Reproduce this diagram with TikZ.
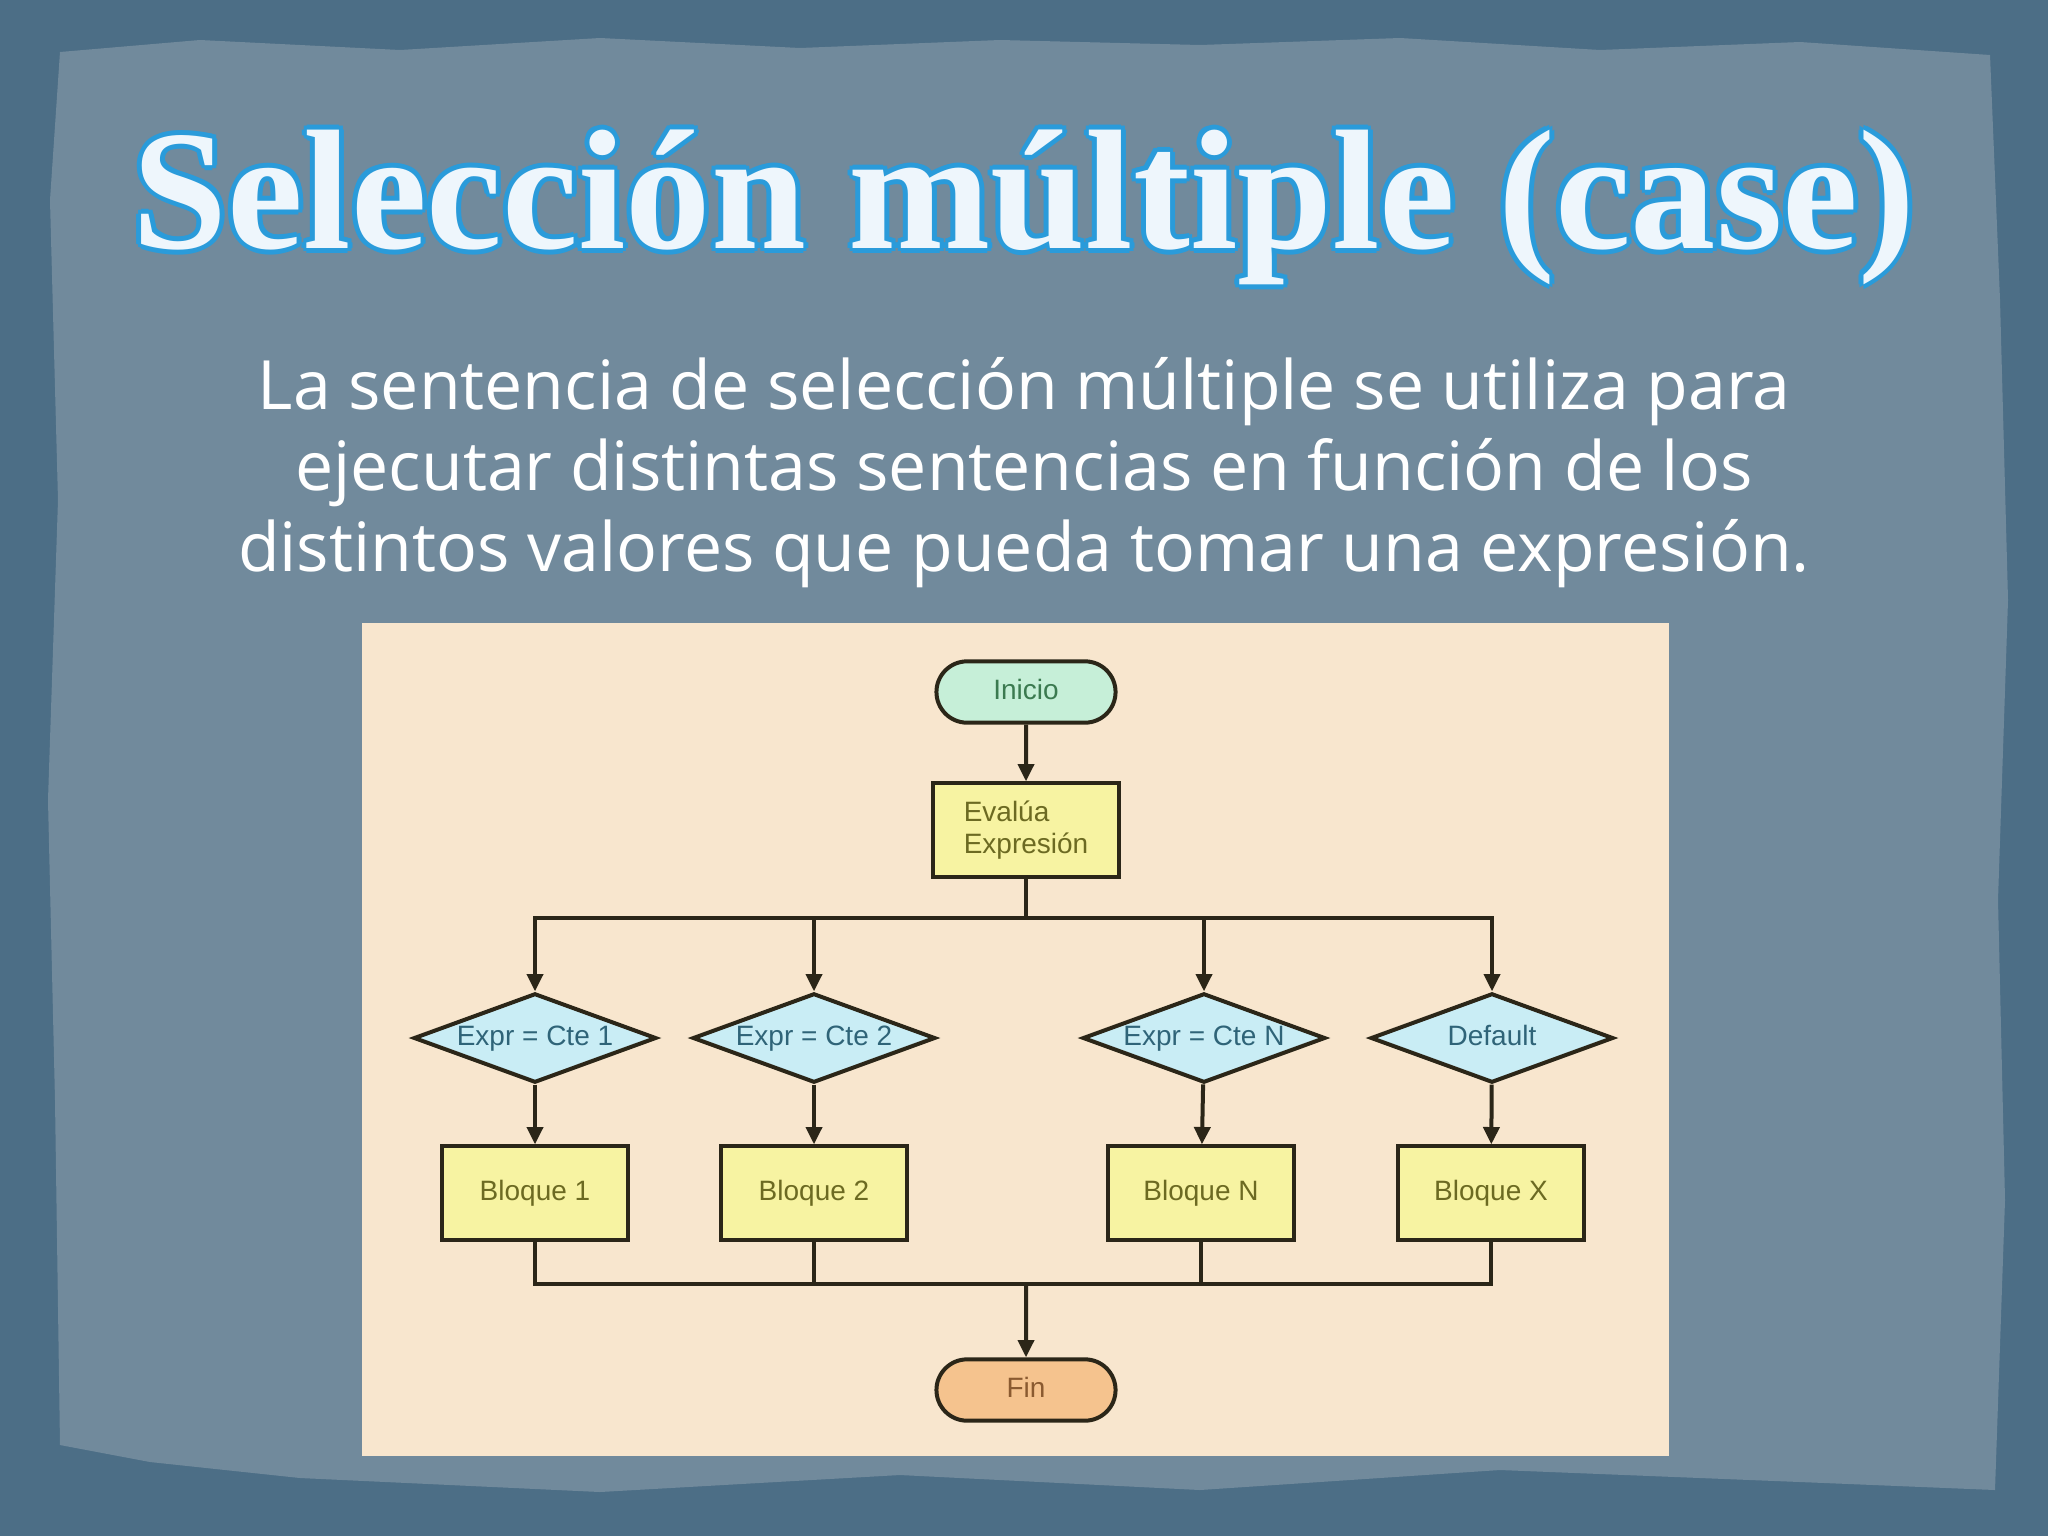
\documentclass[tikz,border=0pt]{standalone}
\usepackage{fontspec}
\newfontfamily\titlefont{Liberation Serif}
\newfontfamily\bodyfont{Open Sans}
\newfontfamily\chartfont{Liberation Sans}
\usetikzlibrary{shapes.geometric,shapes.misc,arrows.meta}
\definecolor{fondo}{HTML}{4C6E86}
\definecolor{panel}{HTML}{718A9C}
\definecolor{tborde}{HTML}{2A9BDA}
\definecolor{trelleno}{HTML}{EEF6FC}
\definecolor{lamina}{HTML}{F8E6CE}
\definecolor{verdeini}{HTML}{C6EFD8}
\definecolor{amarillo}{HTML}{F7F3A2}
\definecolor{celeste}{HTML}{C9EDF5}
\definecolor{naranja}{HTML}{F5C38E}
\definecolor{trazo}{HTML}{2B2618}
\definecolor{oliva}{HTML}{6C6A22}
\definecolor{azuloscuro}{HTML}{2F6478}
\definecolor{verdeosc}{HTML}{3B7A50}
\definecolor{marron}{HTML}{8A5A30}
\tikzset{
  linea/.style={draw=trazo,line width=3pt},
  flecha/.style={linea,-{Triangle[length=13pt,width=12pt]}},
  letra/.style={font=\chartfont\fontsize{21}{24}\selectfont},
  fija/.style={text height=15pt,text depth=4pt},
  terminal/.style={rounded rectangle,linea,letra,fija,minimum width=141pt,minimum height=46pt},
  bloque/.style={rectangle,linea,letra,fill=amarillo,text=oliva,minimum width=140pt,minimum height=70pt},
  decision/.style={diamond,linea,fill=celeste,minimum width=182pt,minimum height=67pt,inner sep=0pt},
  textodec/.style={letra,fija,text=azuloscuro},
  tit/.style={font=\titlefont\bfseries\fontsize{128}{140}\selectfont,anchor=base},
  cuerpo/.style={font=\bodyfont\fontsize{51}{60}\selectfont,text=white,anchor=base}
}
\begin{document}
\begin{tikzpicture}[x=0.75pt,y=0.75pt,yscale=-1,xscale=1]
\useasboundingbox (0,0) rectangle (2048,1536);
\fill[fondo] (0,0) rectangle (2048,1536);
\fill[panel] (60,52) -- (200,40) -- (400,50) -- (600,38) -- (800,48) -- (1000,40) -- (1200,45) -- (1400,38) -- (1600,50) -- (1800,42) -- (1990,55) -- (2000,300) -- (2008,600) -- (1998,900) -- (2005,1200) -- (1995,1490) -- (1800,1482) -- (1500,1470) -- (1200,1490) -- (900,1475) -- (600,1492) -- (300,1478) -- (150,1462) -- (60,1445) -- (55,1100) -- (48,800) -- (58,500) -- (50,200) -- cycle;
% titulo
\foreach \a in {0,45,...,315}
  \node[tit,text=tborde,shift={(\a:5)}] (borde\a) at (1024,248) {Selección múltiple (case)};
\node[tit,text=trelleno] (titulo) at (1024,248) {Selección múltiple (case)};
\node[cuerpo] (linea1) at (1024,409) {La sentencia de selección múltiple se utiliza para};
\node[cuerpo] (linea2) at (1024,490) {ejecutar distintas sentencias en función de los};
\node[cuerpo] (linea3) at (1024,571) {distintos valores que pueda tomar una expresión.};
% diagrama
\fill[lamina] (362,623) rectangle (1669,1456);
\node[terminal,fill=verdeini,text=verdeosc] (inicio) at (1026,692) {Inicio};
\node[bloque,align=left] (evalua) at (1026,830) {Evalúa\\Expresión};
\coordinate (rama) at (1026,918);
\node[decision,label={[textodec]center:{Expr = Cte 1}}] (c1) at (535,1038) {};
\node[decision,label={[textodec]center:{Expr = Cte 2}}] (c2) at (814,1038) {};
\node[decision,label={[textodec]center:{Expr = Cte N}}] (cn) at (1204,1038) {};
\node[decision,label={[textodec]center:{Default}}] (cx) at (1492,1038) {};
\node[bloque,fija] (b1) at (535,1193) {Bloque 1};
\node[bloque,fija] (b2) at (814,1193) {Bloque 2};
\node[bloque,fija] (bn) at (1201,1193) {Bloque N};
\node[bloque,fija] (bx) at (1491,1193) {Bloque X};
\coordinate (union) at (1026,1284);
\node[terminal,fill=naranja,text=marron] (fin) at (1026,1390) {Fin};
\draw[flecha] (inicio) -- (evalua);
\draw[linea] (evalua) -- (rama);
\foreach \d in {c1,c2,cn,cx}
  \draw[flecha] (rama) -| (\d);
\draw[flecha] (c1) -- (b1);
\draw[flecha] (c2) -- (b2);
\draw[flecha] (cn) -- (bn);
\draw[flecha] (cx) -- (bx);
\foreach \b in {b1,b2,bn,bx}
  \draw[linea] (\b) |- (union);
\draw[flecha] (union) -- (fin);
\end{tikzpicture}
\end{document}
